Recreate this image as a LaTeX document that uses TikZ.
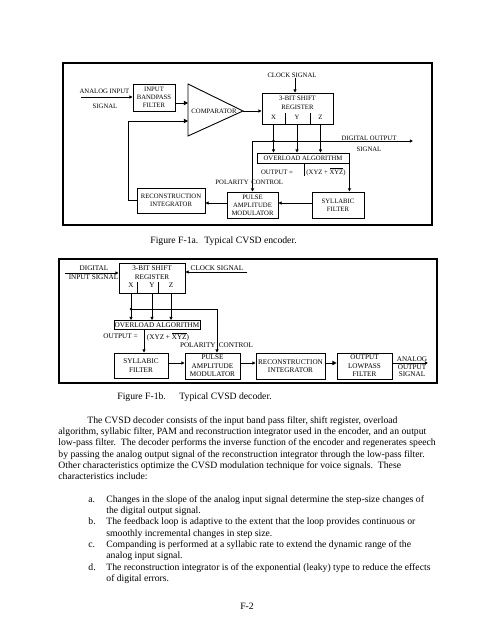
\documentclass[tikz,border=0pt]{standalone}
\usepackage{fontspec}
\setmainfont{Liberation Serif}
\usepackage{tikz}
\usetikzlibrary{arrows.meta,positioning}
\newcommand\ovl[1]{$\overline{\hbox{#1}}$}
\newcommand\itm[1]{\makebox[18pt][l]{#1}}

\begin{document}
\begin{tikzpicture}[x=1pt,y=-1pt,line width=0.8pt,
  enc/.style={font=\fontsize{6.7}{8}\selectfont},
  dec/.style={font=\fontsize{7.2}{8.5}\selectfont},
  blk/.style={draw,line width=0.9pt,align=center,inner sep=0pt},
  txt/.style={inner sep=0pt,align=center},
  w/.style={-{Triangle[length=3.2pt,width=3pt]}},
  wb/.style={-{Triangle[length=4.2pt,width=4.4pt]}},
  body/.style={inner sep=0pt,align=left,font=\fontsize{9.7}{11.3}\selectfont}]
\useasboundingbox (0,0) rectangle (495,640);

% encoder
\draw[line width=1.1pt] (63,63) rectangle (432,225);
\node[blk,enc,minimum width=42pt,minimum height=27pt] (bpf) at (154,97.5) {INPUT\\BANDPASS\\FILTER};
\coordinate (cmpa) at (188,84);
\coordinate (cout) at (243,111);
\coordinate (cmpb) at (188,136);
\draw[line width=0.9pt] (cmpa) -- (cout) -- (cmpb) -- cycle;
\node[txt,enc] (cmp) at (214,111) {COMPARATOR};
\node[blk,enc,font=\fontsize{6.7}{9}\selectfont,minimum width=71pt,minimum height=31pt] (sr) at (297.5,108.5) {3-BIT SHIFT\\REGISTER\\\strut};
\node[txt,enc] (ex) at (273.5,117) {X};
\node[txt,enc] (ey) at (297,117) {Y};
\node[txt,enc] (ez) at (320.5,117) {Z};
\draw (285,113) -- (285,124);
\draw (310,113) -- (310,124);
\node[blk,enc,minimum width=92pt,minimum height=10pt] (ov) at (303,158) {OVERLOAD ALGORITHM};
\node[blk,enc,minimum width=52pt,minimum height=26pt] (syl) at (338,205) {SYLLABIC\\FILTER};
\node[blk,enc,minimum width=51pt,minimum height=26pt] (pam) at (252.5,205) {PULSE\\AMPLITUDE\\MODULATOR};
\node[blk,enc,minimum width=68pt,minimum height=25pt] (rec) at (171,200.5) {RECONSTRUCTION\\INTEGRATOR};

\node[txt,enc] (ain1) at (104.5,91) {ANALOG INPUT};
\node[txt,enc] (ain2) at (105,106) {SIGNAL};
\coordinate (ain) at (81,97);
\node[txt,enc] (clk) at (292,75) {CLOCK SIGNAL};
\node[txt,enc] (dout1) at (369,138.5) {DIGITAL OUTPUT};
\node[txt,enc] (dout2) at (369,149.5) {SIGNAL};
\coordinate (dout) at (413,141);
\node[txt,enc] (oeq) at (277,172) {OUTPUT =};
\node[txt,enc] (xyz) at (326,172) {(XYZ + \ovl{XYZ})};
\node[txt,enc,anchor=east] (pol1) at (249,182) {POLARITY};
\node[txt,enc,anchor=west] (pol2) at (251,182) {CONTROL};

\coordinate (cin1) at (188,103);
\coordinate (cin2) at (188,121);
\coordinate (eln) at (0,203);
\draw[w] (ain) -- (bpf.west |- ain);
\draw[wb] (bpf.east |- cin1) -- (cin1);
\draw[wb] (rec.west) -- ++(-8,0) |- (cin2);
\draw[w] (cout) -- (sr.west |- cout);
\draw[w] ([xshift=3pt]clk.south) -- ([xshift=3pt]clk.south |- sr.north);
\foreach \b in {ex,ey,ez}
  \draw[w] (\b |- sr.south) -- (\b |- ov.north);
\coordinate (jx) at (ex |- 0,141);
\fill (jx) circle (1.4pt);
\draw[w] (jx) -- (dout);
\draw[w] (jx) -| (pam.north);
\draw (304,163) -- (304,176);
\draw[w] (ov.south east) -- (ov.south east |- syl.north);
\draw[w] (syl.west |- eln) -- (pam.east |- eln);
\draw[w] (pam.west |- eln) -- (rec.east |- eln);

\node[body,anchor=west] (capa) at (150,241) {Figure F-1a.};
\node[body,anchor=west] (capa2) at (204,241) {Typical CVSD encoder.};

% decoder
\draw[line width=1.1pt] (59,259) rectangle (437,383);
\node[txt,dec] (din1) at (94,268) {DIGITAL};
\node[txt,dec] (din2) at (93.5,277.5) {INPUT SIGNAL};
\coordinate (din) at (65,273);
\node[blk,dec,minimum width=66pt,minimum height=30pt] (sr2) at (152,278) {3-BIT SHIFT\\REGISTER\\\strut};
\node[txt,dec] (ex2) at (131,285) {X};
\node[txt,dec] (ey2) at (152,285) {Y};
\node[txt,dec] (ez2) at (171,285) {Z};
\draw (137,282) -- (137,293);
\draw (158,282) -- (158,293);
\node[txt,dec] (clk2) at (217,268) {CLOCK SIGNAL};
\coordinate (cin3) at (247,272);
\node[blk,dec,minimum width=86pt,minimum height=9pt] (ov2) at (157,325) {OVERLOAD ALGORITHM};
\node[txt,dec] (oeq2) at (120.5,336.5) {OUTPUT =};
\node[txt,dec] (xyz2) at (168,336.5) {(XYZ + \ovl{XYZ})};
\node[txt,dec,anchor=east] (pol3) at (216,345) {POLARITY};
\node[txt,dec,anchor=west] (pol4) at (218.5,345) {CONTROL};
\node[blk,dec,minimum width=54pt,minimum height=25pt] (syl2) at (141,365.5) {SYLLABIC\\FILTER};
\node[blk,dec,minimum width=55pt,minimum height=26pt] (pam2) at (212.5,366) {PULSE\\AMPLITUDE\\MODULATOR};
\node[blk,dec,minimum width=69pt,minimum height=26pt] (rec2) at (290.5,366) {RECONSTRUCTION\\INTEGRATOR};
\node[blk,dec,minimum width=55pt,minimum height=26pt] (lpf) at (364.5,366) {OUTPUT\\LOWPASS\\FILTER};
\node[txt,dec] (aout1) at (412,359) {ANALOG};
\node[txt,dec] (aout2) at (412,367) {OUTPUT};
\node[txt,dec] (aout3) at (412,374.5) {SIGNAL};
\coordinate (aout) at (428,363);

\coordinate (dln) at (0,363);
\draw[w] (din) -- (sr2.west |- din);
\draw[w] (cin3) -- (sr2.east |- cin3);
\foreach \b in {ex2,ey2,ez2}
  \draw[w] (\b |- sr2.south) -- (\b |- ov2.north);
\coordinate (jx2) at (ex2 |- 0,309);
\fill (jx2) circle (1.4pt);
\draw[w] (jx2) -| ([xshift=4.5pt]pam2.north);
\draw[w] (ov2.south -| 144,0) -- (syl2.north -| 144,0);
\draw[w] (syl2.east |- dln) -- (pam2.west |- dln);
\draw[w] (pam2.east |- dln) -- (rec2.west |- dln);
\draw[wb] (rec2.east |- dln) -- (lpf.west |- dln);
\draw[w] (lpf.east |- dln) -- (aout);

\node[body,anchor=west] (capb) at (117,397) {Figure F-1b.};
\node[body,anchor=west] (capb2) at (179,397) {Typical CVSD decoder.};

% text
\node[body,anchor=north west] (para) at (58,416) {\hspace*{29pt}The CVSD decoder consists of the input band pass filter, shift register, overload\\
algorithm, syllabic filter, PAM and reconstruction integrator used in the encoder, and an output\\
low-pass filter.\ \ The decoder performs the inverse function of the encoder and regenerates speech\\
by passing the analog output signal of the reconstruction integrator through the low-pass filter.\\
Other characteristics optimize the CVSD modulation technique for voice signals.\ \ These\\
characteristics include:};
\node[body,anchor=north west] (lst) at (88,495) {\itm{a.}Changes in the slope of the analog input signal determine the step-size changes of\\
\itm{}the digital output signal.\\
\itm{b.}The feedback loop is adaptive to the extent that the loop provides continuous or\\
\itm{}smoothly incremental changes in step size.\\
\itm{c.}Companding is performed at a syllabic rate to extend the dynamic range of the\\
\itm{}analog input signal.\\
\itm{d.}The reconstruction integrator is of the exponential (leaky) type to reduce the effects\\
\itm{}of digital errors.};
\node[body] (pg) at (247,606) {F-2};
\end{tikzpicture}
\end{document}
